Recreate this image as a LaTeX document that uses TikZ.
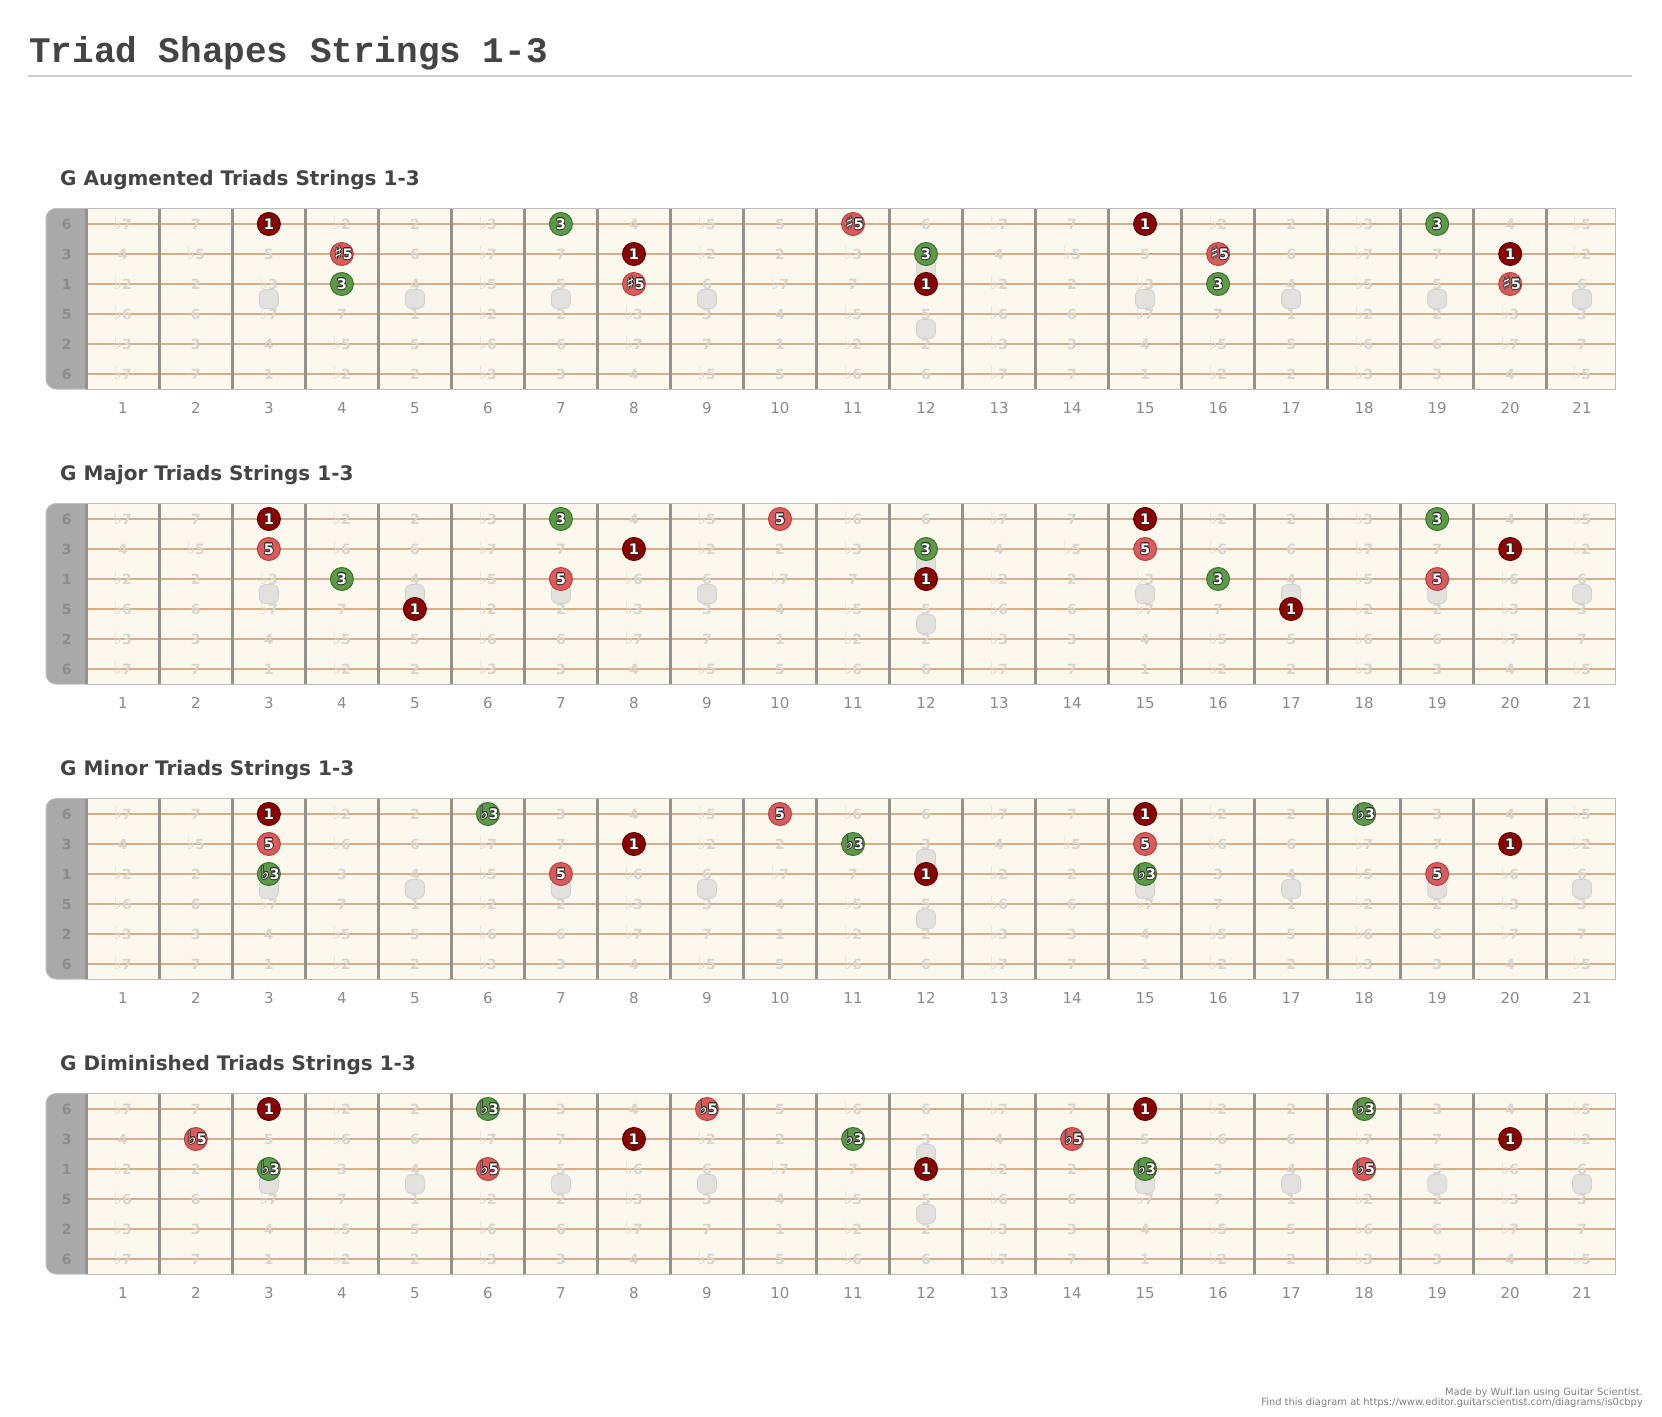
\documentclass[tikz,border=0pt]{standalone}
\usepackage{fontspec}
\usepackage{graphicx}
\setmainfont{DejaVu Sans}
\newfontfamily\titlemono{Liberation Mono}
\definecolor{boardc}{HTML}{FDF8EE}
\definecolor{bordc}{HTML}{BDBDBD}
\definecolor{nutc}{HTML}{A9A9A9}
\definecolor{nutlab}{HTML}{8C8C8C}
\definecolor{strc}{HTML}{D6AE8C}
\definecolor{fretc}{HTML}{96918A}
\definecolor{labc}{HTML}{DAD5CC}
\definecolor{mkfill}{HTML}{E2E1DE}
\definecolor{mkdraw}{HTML}{D3D1CC}
\definecolor{rootc}{HTML}{8B0000}
\definecolor{rootd}{HTML}{5E0000}
\definecolor{thirdc}{HTML}{5B9A46}
\definecolor{thirdd}{HTML}{3F7030}
\definecolor{fifthc}{HTML}{DB5B5D}
\definecolor{fifthd}{HTML}{B04445}
\definecolor{outl}{HTML}{2A2A2A}
\definecolor{titlec}{HTML}{444444}
\definecolor{numc}{HTML}{8A8A8A}
\definecolor{rulec}{HTML}{CCCCCC}
\definecolor{footc}{HTML}{808080}
\newcommand\flt{\scalebox{1.25}{\mdseries ♭}}
\newcommand\shp{\scalebox{1.2}{\mdseries ♯}}
\newcommand\ivname[1]{\ifcase#1\relax 1\or \flt2\or 2\or \flt3\or 3\or 4\or \flt5\or 5\or \flt6\or 6\or \flt7\or 7\fi}
\tikzset{
  x=1pt, y=-1pt,
  bglab/.style={text=labc, font=\fontsize{14}{14}\selectfont\bfseries, inner sep=0pt, text height=10pt, text depth=0pt, anchor=center},
  nutlabel/.style={text=nutlab, font=\fontsize{14}{14}\selectfont\bfseries, inner sep=0pt, text height=10pt, text depth=0pt, anchor=center},
  fretnum/.style={text=numc, font=\fontsize{15}{15}\selectfont, inner sep=0pt, text height=11pt, text depth=0pt, anchor=center},
  paneltitle/.style={text=titlec, font=\fontsize{20}{20}\selectfont\bfseries, inner sep=0pt, anchor=base west},
  strline/.style={draw=strc, line width=1.5pt},
  fretline/.style={draw=fretc, line width=2.6pt},
  marker/.style={rectangle, rounded corners=6pt, minimum size=19pt, inner sep=0pt, fill=mkfill, draw=mkdraw, line width=0.8pt},
  dotc/.style={circle, minimum size=23pt, inner sep=0pt, line width=1pt},
  dotroot/.style={fill=rootc, draw=rootd},
  dotthird/.style={fill=thirdc, draw=thirdd},
  dotfifth/.style={fill=fifthc, draw=fifthd},
  dotlab/.style={font=\fontsize{14.5}{14.5}\selectfont\bfseries, inner sep=0pt, text height=10.5pt, text depth=0pt, anchor=center},
  footer/.style={text=footc, font=\fontsize{9.9}{10}\selectfont, inner sep=0pt, anchor=base east}
}
\newcommand\chorddot[6]{%
  \pgfmathsetmacro\cx{86.3+73.02*(#3-0.5)}%
  \pgfmathsetmacro\cy{224+30*(#2-1)+295*#1}%
  \node[dotc,#4] (dot-#1-#2-#3) at (\cx,\cy) {};%
  \foreach \ox/\oy in {-0.8/0,0.8/0,0/-0.8,0/0.8,-0.6/-0.6,0.6/0.6,-0.6/0.6,0.6/-0.6}{%
    \node[dotlab,text=outl] at (\cx+#6+\ox,\cy+\oy) {#5};}%
  \node[dotlab,text=white] (dl-#1-#2-#3) at (\cx+#6,\cy) {#5};%
}
\begin{document}
\begin{tikzpicture}
\useasboundingbox (0,0) rectangle (1662,1416);
\fill[white] (0,0) rectangle (1662,1416);
\node[text=titlec, font=\titlemono\fontsize{36}{36}\selectfont\bfseries, inner sep=0pt, anchor=base west] (maintitle) at (29,62.5) {Triad Shapes Strings 1-3};
\draw[rulec, line width=1.5pt] (28,76) -- (1632,76);
\foreach \p/\ttl in {0/G Augmented Triads Strings 1-3, 1/G Major Triads Strings 1-3, 2/G Minor Triads Strings 1-3, 3/G Diminished Triads Strings 1-3}{
  \pgfmathsetmacro\poff{295*\p}
  \pgfmathsetmacro\bt{208.5+\poff}
  \pgfmathsetmacro\bb{389+\poff}
  \node[paneltitle] (title-\p) at (60,185.7+\poff) {\ttl};
  \fill[boardc] (86.3,\bt) rectangle (1615.7,\bb);
  \fill[nutc, rounded corners=10pt] (46,\bt) rectangle (86.3,\bb);
  \fill[nutc] (70,\bt) rectangle (86.3,\bb);
  \draw[bordc, line width=1pt] (86.3,\bt) rectangle (1615.7,\bb);
  \draw[bordc, line width=1pt, rounded corners=10pt] (86.3,\bt) -- (46,\bt) -- (46,\bb) -- (86.3,\bb);
  \foreach \s in {1,...,6}{
    \draw[strline] (86.3,224+30*\s-30+\poff) -- (1615.7,224+30*\s-30+\poff);
  }
  \foreach \n in {0,...,20}{
    \draw[fretline] (86.3+73.02*\n,\bt) -- (86.3+73.02*\n,\bb);
  }
  \foreach \s/\o/\nl in {1/9/6,2/4/3,3/0/1,4/7/5,5/2/2,6/9/6}{
    \node[nutlabel] (nl-\p-\s) at (66.7,224+30*\s-30+\poff) {\nl};
    \foreach \n in {1,...,21}{
      \pgfmathtruncatemacro\iv{mod(\o+\n,12)}
      \pgfmathsetmacro\lx{\n==21 ? 1582 : 86.3+73.02*(\n-0.5)}
      \node[bglab] (bg-\p-\s-\n) at (\lx,224+30*\s-30+\poff) {\ivname{\iv}};
    }
  }
  \foreach \n in {1,...,21}{
    \pgfmathsetmacro\lx{\n==21 ? 1582 : 86.3+73.02*(\n-0.5)}
    \node[fretnum] (fn-\p-\n) at (\lx,407.5+\poff) {\n};
  }
  \foreach \n in {3,5,7,9,15,17,19,21}{
    \pgfmathsetmacro\lx{\n==21 ? 1582 : 86.3+73.02*(\n-0.5)}
    \node[marker] (mk-\p-\n) at (\lx,299+\poff) {};
  }
  \node[marker] (mk-\p-12a) at (86.3+73.02*11.5,269+\poff) {};
  \node[marker] (mk-\p-12b) at (86.3+73.02*11.5,329+\poff) {};
}
% Augmented
\foreach \s/\f/\t/\l/\h in {1/3/dotroot/1/0, 1/7/dotthird/3/0, 1/11/dotfifth/\shp5/1.5, 1/15/dotroot/1/0, 1/19/dotthird/3/0,
  2/4/dotfifth/\shp5/1.5, 2/8/dotroot/1/0, 2/12/dotthird/3/0, 2/16/dotfifth/\shp5/1.5, 2/20/dotroot/1/0,
  3/4/dotthird/3/0, 3/8/dotfifth/\shp5/1.5, 3/12/dotroot/1/0, 3/16/dotthird/3/0, 3/20/dotfifth/\shp5/1.5}{
  \chorddot{0}{\s}{\f}{\t}{\l}{\h}
}
% Major
\foreach \s/\f/\t/\l/\h in {1/3/dotroot/1/0, 1/7/dotthird/3/0, 1/10/dotfifth/5/0, 1/15/dotroot/1/0, 1/19/dotthird/3/0,
  2/3/dotfifth/5/0, 2/8/dotroot/1/0, 2/12/dotthird/3/0, 2/15/dotfifth/5/0, 2/20/dotroot/1/0,
  3/4/dotthird/3/0, 3/7/dotfifth/5/0, 3/12/dotroot/1/0, 3/16/dotthird/3/0, 3/19/dotfifth/5/0,
  4/5/dotroot/1/0, 4/17/dotroot/1/0}{
  \chorddot{1}{\s}{\f}{\t}{\l}{\h}
}
% Minor
\foreach \s/\f/\t/\l/\h in {1/3/dotroot/1/0, 1/6/dotthird/\flt3/1.5, 1/10/dotfifth/5/0, 1/15/dotroot/1/0, 1/18/dotthird/\flt3/1.5,
  2/3/dotfifth/5/0, 2/8/dotroot/1/0, 2/11/dotthird/\flt3/1.5, 2/15/dotfifth/5/0, 2/20/dotroot/1/0,
  3/3/dotthird/\flt3/1.5, 3/7/dotfifth/5/0, 3/12/dotroot/1/0, 3/15/dotthird/\flt3/1.5, 3/19/dotfifth/5/0}{
  \chorddot{2}{\s}{\f}{\t}{\l}{\h}
}
% Diminished
\foreach \s/\f/\t/\l/\h in {1/3/dotroot/1/0, 1/6/dotthird/\flt3/1.5, 1/9/dotfifth/\flt5/1.5, 1/15/dotroot/1/0, 1/18/dotthird/\flt3/1.5,
  2/2/dotfifth/\flt5/1.5, 2/8/dotroot/1/0, 2/11/dotthird/\flt3/1.5, 2/14/dotfifth/\flt5/1.5, 2/20/dotroot/1/0,
  3/3/dotthird/\flt3/1.5, 3/6/dotfifth/\flt5/1.5, 3/12/dotroot/1/0, 3/15/dotthird/\flt3/1.5, 3/18/dotfifth/\flt5/1.5}{
  \chorddot{3}{\s}{\f}{\t}{\l}{\h}
}
\node[footer] (foot1) at (1643,1395) {Made by Wulf.Ian using Guitar Scientist.};
\node[footer] (foot2) at (1643,1405.5) {Find this diagram at https://www.editor.guitarscientist.com/diagrams/is0cbpy};
\end{tikzpicture}
\end{document}
